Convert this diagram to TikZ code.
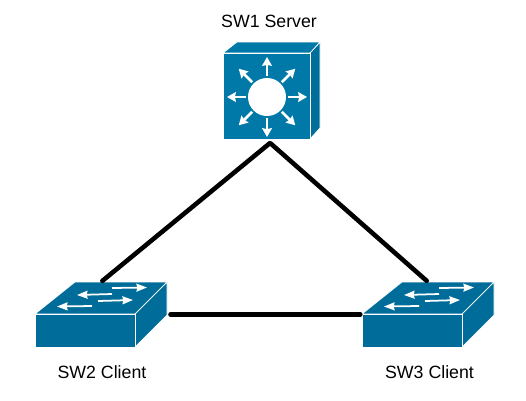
\documentclass[tikz,border=0pt]{standalone}
\usepackage{fontspec}
\setmainfont{Liberation Sans}
\usetikzlibrary{arrows.meta,positioning}

\definecolor{corefront}{HTML}{0079A8}
\definecolor{coreside}{HTML}{006E9B}
\definecolor{accessfront}{HTML}{006C99}

\tikzset{
  swnode/.style={inner sep=0pt,outer sep=0pt},
  swlabel/.style={font=\fontsize{10.1}{12}\selectfont,text=black},
  swface/.style={draw=white,line width=0.4pt,line join=round},
  swarrow/.style={draw=white,line width=1.5pt,-{Stealth[length=5pt,width=5.5pt,inset=0.5pt]}},
  leafarrow/.style={draw=white,line width=1pt,-{Stealth[length=6pt,width=4.5pt,inset=0.5pt]}},
  swlink/.style={draw=black,line width=2.6pt,line cap=round,line join=round}
}

\begin{document}
\begin{tikzpicture}[x=0.02cm,y=0.02cm]
\useasboundingbox (0,0) rectangle (526,400);

% Server switch
\fill[coreside,swface] (310,261) -- (320,272) -- (320,358) -- (310,347) -- cycle;
\fill[corefront,swface] (237,358) -- (320,358) -- (310,347) -- (223,347) -- cycle;
\fill[corefront,swface] (223,261) rectangle (310,347);
\fill[white] (267,303) circle (19);
\foreach \ang in {0,45,...,315}
  \draw[swarrow] (267,303) ++(\ang:21) -- ++(\ang:19);

% Client switches
\foreach \dx in {0,327}{
  \begin{scope}[shift={(\dx,0)}]
  \fill[accessfront,swface] (75,118) -- (167,118) -- (135,86) -- (35,86) -- cycle;
  \fill[accessfront,swface] (135,53) -- (167,85) -- (167,118) -- (135,86) -- cycle;
  \fill[accessfront,swface] (35,53) rectangle (135,86);
  \draw[leafarrow] (112,112) -- (147,112.5);
  \draw[leafarrow] (112,106) -- (77,105);
  \draw[leafarrow] (98,99) -- (133,100);
  \draw[leafarrow] (92,94) -- (57,93.5);
  \end{scope}
}

% Switch outlines used by the links
\node[swnode,minimum width=1.94cm,minimum height=1.96cm] (sw1) at (271.5,309) {};
\node[swnode,minimum width=2.64cm,minimum height=1.3cm] (sw2) at (101,85.5) {};
\node[swnode,minimum width=2.64cm,minimum height=1.3cm] (sw3) at (428,85.5) {};
\coordinate (apex) at ([xshift=-0.8pt,yshift=-1.7pt]sw1.south);

% Links
\draw[swlink,shorten <=1pt,shorten >=1pt] (sw2.north) -- (apex) -- (sw3.north);
\draw[swlink,shorten <=2pt,shorten >=1pt] (sw2.east) -- (sw3.west);

% Labels
\node[swlabel] (sw1label) at (269,379) {SW1 Server};
\node[swlabel] (sw2label) at (102,28) {SW2 Client};
\node[swlabel] (sw3label) at (429.5,28) {SW3 Client};

\end{tikzpicture}
\end{document}
